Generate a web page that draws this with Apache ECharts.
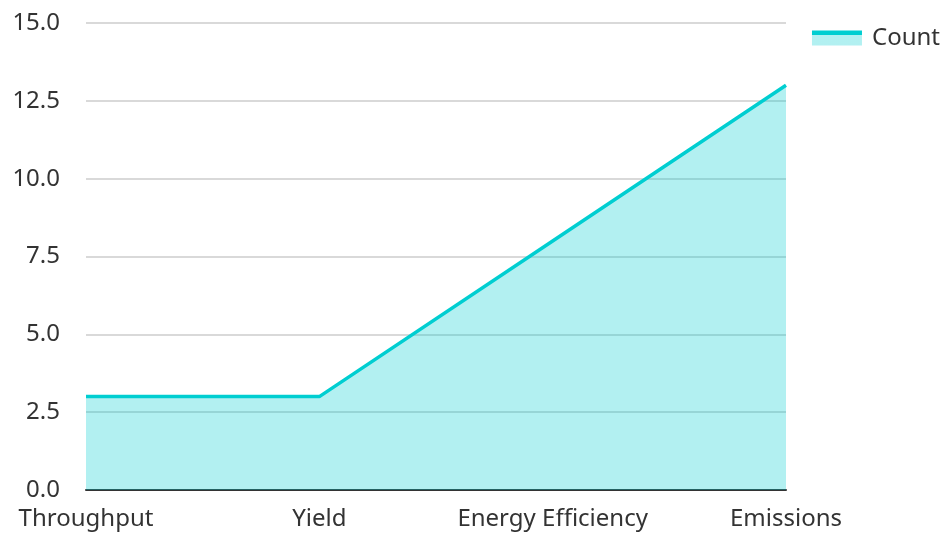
<!DOCTYPE html>
<html>
<head>
<meta charset="utf-8">
<script src="https://cdn.jsdelivr.net/npm/echarts@6/dist/echarts.min.js"></script>
<style>html,body{margin:0;padding:0;background:#fff}#c{width:945px;height:533px}</style>
</head>
<body>
<div id="c"></div>
<script>
const categories = ["Throughput", "Yield", "Energy Efficiency", "Emissions"];
const counts = [3, 3, 8, 13];
const seriesName = "Count";

const chart = echarts.init(document.getElementById('c'));
chart.setOption({
  animation: false,
  textStyle: { fontFamily: 'Noto Sans' },
  legend: {
    right: 0, top: 21,
    itemWidth: 50, itemHeight: 15, itemGap: 10,
    icon: 'rect',
    itemStyle: {
      color: new echarts.graphic.LinearGradient(0, 0, 0, 1, [
        { offset: 0, color: '#00CED1' },
        { offset: 0.27, color: '#00CED1' },
        { offset: 0.27, color: 'rgba(0,206,209,0.3)' },
        { offset: 1, color: 'rgba(0,206,209,0.3)' }
      ])
    },
    textStyle: { fontSize: 24, color: '#333', fontFamily: 'Noto Sans', padding: [0, 0, 0, 5] },
    data: [seriesName]
  },
  grid: { left: 86, right: 159, top: 23, bottom: 43 },
  xAxis: {
    type: 'category', data: categories, boundaryGap: false,
    axisLine: { lineStyle: { color: '#333', width: 2 } },
    axisTick: { show: false },
    axisLabel: { fontSize: 24, color: '#333', margin: 17, interval: 0, fontFamily: 'Noto Sans' }
  },
  yAxis: {
    type: 'value', min: 0, max: 15, interval: 2.5,
    axisLabel: { fontSize: 24, color: '#333', margin: 26, fontFamily: 'Noto Sans',
      formatter: v => v.toFixed(1) },
    splitLine: { lineStyle: { color: '#ccc', width: 1.5 } }
  },
  series: [{
    name: seriesName, type: 'line', data: counts,
    symbol: 'none',
    lineStyle: { color: '#00CED1', width: 3.5 },
    itemStyle: { color: '#00CED1' },
    areaStyle: { color: '#00CED1', opacity: 0.3 }
  }]
});
</script>
</body>
</html>
